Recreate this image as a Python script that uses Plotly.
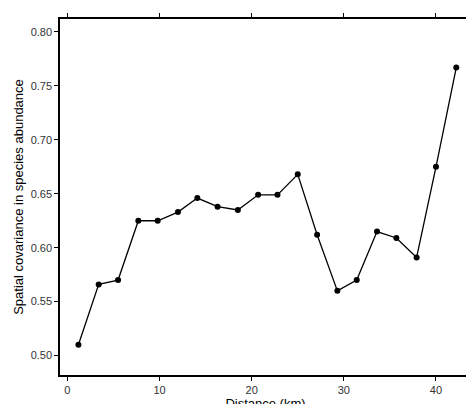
import plotly.graph_objects as go

distance_km = [1.2, 3.4, 5.5, 7.7, 9.8, 12.0, 14.1, 16.3, 18.5, 20.7, 22.8, 25.0,
               27.1, 29.3, 31.4, 33.6, 35.7, 37.9, 40.0, 42.2]
covariance = [0.510, 0.566, 0.570, 0.625, 0.625, 0.633, 0.646, 0.638, 0.635, 0.649, 0.649, 0.668,
              0.612, 0.560, 0.570, 0.615, 0.609, 0.591, 0.675, 0.767]

fig = go.Figure()
fig.add_trace(go.Scatter(x=distance_km, y=covariance, mode="lines+markers",
                         line=dict(color="black", width=1.3),
                         marker=dict(color="black", size=6)))

axis_style = dict(showline=True, linecolor="black", linewidth=1.5, mirror="all",
                  ticks="outside", ticklen=4, tickcolor="black", showgrid=False,
                  zeroline=False, tickfont=dict(size=11, color="#333"))
fig.update_xaxes(range=[-0.8, 43.8], tickvals=[0, 10, 20, 30, 40],
                 title=dict(text="Distance (km)", font=dict(size=13, color="black"), standoff=2),
                 **axis_style)
fig.update_yaxes(range=[0.482, 0.812], tickvals=[0.5, 0.55, 0.6, 0.65, 0.7, 0.75, 0.8],
                 tickformat=".2f",
                 title=dict(text="Spatial covariance in species abundance", font=dict(size=13, color="black"), standoff=4),
                 **axis_style)
fig.update_layout(width=474, height=404, plot_bgcolor="white", paper_bgcolor="white",
                  showlegend=False, margin=dict(l=52, r=5, t=6, b=36),
                  font=dict(family="Liberation Sans, Arial"))
fig.write_html("out.html")
